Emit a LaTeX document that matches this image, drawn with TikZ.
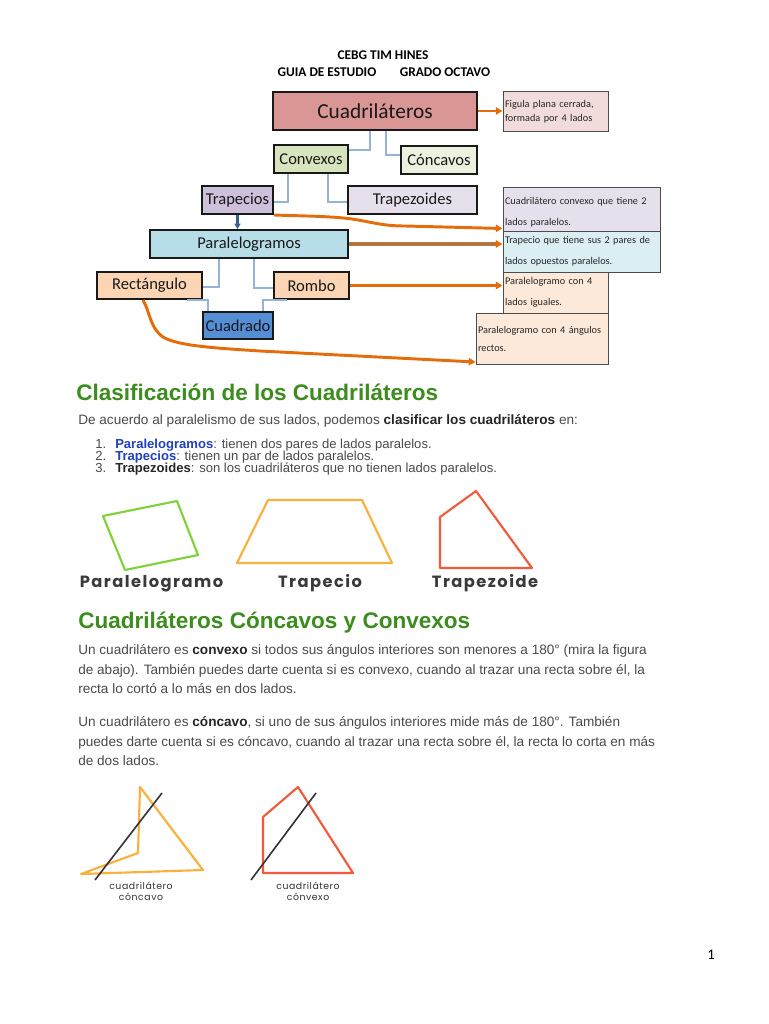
\documentclass[tikz,border=0pt]{standalone}
\usepackage{fontspec}
\setmainfont{Carlito}
\newfontfamily\arial{Liberation Sans}
\newfontfamily\gothicA{Poppins}[LetterSpace=9]
\newfontfamily\gothicB{Poppins}[LetterSpace=6]
\usetikzlibrary{arrows.meta}
\definecolor{cuadfill}{HTML}{DA9694}
\definecolor{convfill}{HTML}{D7E4BD}
\definecolor{concfill}{HTML}{EBF1DE}
\definecolor{trapfill}{HTML}{CCC0DA}
\definecolor{tzfill}{HTML}{E6E0EC}
\definecolor{parfill}{HTML}{B7DEE8}
\definecolor{peach}{HTML}{FCD5B5}
\definecolor{cuadrfill}{HTML}{558ED5}
\definecolor{dafill}{HTML}{F2DCDB}
\definecolor{dbfill}{HTML}{E6E0EC}
\definecolor{dcfill}{HTML}{DBEEF4}
\definecolor{ddfill}{HTML}{FDE9D9}
\definecolor{linkblue}{HTML}{95B3D7}
\definecolor{arrorange}{HTML}{E46C0A}
\definecolor{darrblue}{HTML}{376092}
\definecolor{headgreen}{HTML}{3C8C1E}
\definecolor{bodygray}{HTML}{4A4A4A}
\definecolor{listblue}{HTML}{2040C0}
\definecolor{shgreen}{HTML}{7ED23A}
\definecolor{shorange}{HTML}{FBB03B}
\definecolor{shred}{HTML}{F15A3A}
\definecolor{labgray}{HTML}{3A3A3A}
\begin{document}
\begin{tikzpicture}[x=0.75pt,y=-0.75pt,
  mainbox/.style={draw=black!90, line width=1.5pt, inner sep=0pt, text=black!90, font=\fontsize{12.4}{14}\selectfont},
  descbox/.style={draw=black!70, line width=0.75pt, inner xsep=1.5pt, inner ysep=0pt, align=left, text=black!85},
  link/.style={draw=linkblue, line width=0.9pt},
  orarrow/.style={draw=arrorange, line width=2.2pt, -{Triangle[length=5pt,width=5.5pt]}},
  titletxt/.style={inner sep=0pt, font=\bfseries\fontsize{10}{12}\selectfont, text=black},
  heading/.style={anchor=base west, inner sep=0pt, text=headgreen, font=\arial\bfseries\fontsize{16.9}{20}\selectfont},
  body/.style={anchor=base west, inner sep=0pt, text=bodygray, font=\arial\fontsize{10.2}{12}\selectfont},
  listtxt/.style={anchor=base west, inner sep=0pt, text=bodygray, font=\arial\fontsize{9.8}{10}\selectfont},
  shapelab/.style={anchor=base, inner sep=0pt, text=labgray, font=\gothicA\bfseries\fontsize{12.2}{13}\selectfont},
  smalllab/.style={anchor=base, inner sep=0pt, text=black!80, font=\gothicB\fontsize{7}{8}\selectfont},
  shapeline/.style={line width=1.6pt, line join=round}]
\useasboundingbox (0,0) rectangle (768,1024);
\fill[white] (0,0) rectangle (768,1024);

% title
\node[titletxt] (t1) at (383,55) {CEBG TIM HINES};
\node[titletxt] (t2) at (327,72) {GUIA DE ESTUDIO};
\node[titletxt] (t3) at (445,72) {GRADO OCTAVO};

% main boxes
\node[mainbox, fill=cuadfill, minimum width=153pt, minimum height=28.5pt, font=\fontsize{16}{18}\selectfont] (cuad) at (375,111) {Cuadriláteros};
\node[mainbox, fill=convfill, minimum width=55.5pt, minimum height=21pt] (conv) at (311,159) {Convexos};
\node[mainbox, fill=concfill, minimum width=57pt, minimum height=21pt] (conc) at (439,159.5) {Cóncavos};
\node[mainbox, fill=trapfill, minimum width=53.25pt, minimum height=21pt] (trap) at (237.5,200) {Trapecios};
\node[mainbox, fill=tzfill, minimum width=96.75pt, minimum height=21pt] (tz) at (412.5,200) {Trapezoides};
\node[mainbox, fill=parfill, minimum width=148.5pt, minimum height=21pt] (par) at (249,244) {Paralelogramos};
\node[mainbox, fill=peach, minimum width=78.75pt, minimum height=20.25pt] (rect) at (149.5,285.5) {Rectángulo};
\node[mainbox, fill=peach, minimum width=56.25pt, minimum height=20.25pt] (rombo) at (311.5,285.5) {Rombo};
\node[mainbox, fill=cuadrfill, minimum width=52.5pt, minimum height=20.25pt] (cuadr) at (238,325.5) {Cuadrado};

% description boxes
\node[descbox, fill=dafill, minimum width=78.75pt, minimum height=29.25pt, text width=75.75pt, font=\fontsize{7.7}{10.5}\selectfont] (d1) at (555.5,111.5) {Figula plana cerrada,\\formada por 4 lados};
\node[descbox, fill=dbfill, minimum width=117.75pt, minimum height=33pt, text width=114.75pt, font=\fontsize{7.7}{15.5}\selectfont] (d2) at (581.5,209) {\rule{0pt}{10.5pt}Cuadrilátero convexo que tiene 2\\lados paralelos.};
\node[descbox, fill=dcfill, minimum width=117.75pt, minimum height=30.75pt, text width=114.75pt, font=\fontsize{7.7}{15.5}\selectfont] (d3) at (581.5,251.5) {Trapecio que tiene sus 2 pares de\\lados opuestos paralelos.};
\node[descbox, fill=ddfill, minimum width=78.75pt, minimum height=30.75pt, text width=75.75pt, font=\fontsize{7.7}{16}\selectfont] (d4) at (555.5,292.5) {Paralelogramo con 4\\lados iguales.};
\node[descbox, fill=ddfill, minimum width=99pt, minimum height=38.25pt, text width=96pt, font=\fontsize{7.7}{13.5}\selectfont] (d5) at (542,338.5) {Paralelogramo con 4 ángulos\\rectos.};

% elbow coordinates
\coordinate (cA) at (370,150);
\coordinate (cB) at (386,155);
\coordinate (cC) at (288,202);
\coordinate (cD) at (328,202);
\coordinate (cE) at (219,287);
\coordinate (cF) at (254,288);
\coordinate (cG0) at (187,0);
\coordinate (cG) at (208,0);
\coordinate (cH0) at (287,0);
\coordinate (cH) at (263,0);
\coordinate (cR) at (143,0);
\coordinate (cR2) at (0,362);

% blue connectors
\draw[link] (cuad.south -| cA) |- (conv.east |- cA);
\draw[link] (cuad.south -| cB) |- (conc.west |- cB);
\draw[link] (conv.south -| cC) |- (trap.east |- cC);
\draw[link] (conv.south -| cD) |- (tz.west |- cD);
\draw[link] (par.south -| cE) |- (rect.east |- cE);
\draw[link] (par.south -| cF) |- (rombo.west |- cF);
\draw[link] (rect.south -| cG0) -| (cuadr.north -| cG);
\draw[link] (rombo.south -| cH0) -| (cuadr.north -| cH);
\draw[draw=darrblue, line width=1.6pt, -{Triangle[length=4pt,width=4.5pt]}] (trap.south) -- (trap.south |- par.north);

% orange arrows
\draw[orarrow] (cuad.east) -- (d1.west |- cuad.east);
\draw[orarrow] (trap.south east) .. controls (300,216) and (330,216) .. (352,219) .. controls (372,222) and (382,226) .. (405,226) -- ([yshift=2.25pt]d2.south west);
\draw[orarrow, line width=3pt] (par.east) -- (d3.west |- par.east);
\draw[draw=gray, line width=1.3pt, shorten >=6pt] (par.east) -- (d3.west |- par.east);
\draw[orarrow] (rombo.east) -- (d4.west |- rombo.east);
\draw[orarrow] (rect.south -| cR) .. controls (150,312) and (150,328) .. (163,337) .. controls (178,346) and (215,348) .. (260,351) -- (d5.west |- cR2);

% section 1
\node[heading] (h1) at (76,400) {Clasificación de los Cuadriláteros};
\node[body] (p0) at (78,424) {De acuerdo al paralelismo de sus lados, podemos \textbf{\textcolor{black!85}{clasificar los cuadriláteros}} en:};
\node[listtxt] (n1) at (95,448) {1.};
\node[listtxt] (n2) at (95,460) {2.};
\node[listtxt] (n3) at (95,472) {3.};
\node[listtxt] (l1) at (115,448) {\textcolor{listblue}{\textbf{Paralelogramos}}: tienen dos pares de lados paralelos.};
\node[listtxt] (l2) at (115,460) {\textcolor{listblue}{\textbf{Trapecios}}: tienen un par de lados paralelos.};
\node[listtxt] (l3) at (115,472) {\textcolor{black!85}{\textbf{Trapezoides}}: son los cuadriláteros que no tienen lados paralelos.};

% shapes
\draw[shapeline, shgreen] (103,516) -- (177,501) -- (198,555) -- (125,570) -- cycle;
\draw[shapeline, shorange] (237,563) -- (268,500) -- (362,500) -- (392,563) -- cycle;
\draw[shapeline, shred] (440,568) -- (440,517) -- (476,491) -- (532,568) -- cycle;
\node[shapelab] (s1) at (151.5,587) {Paralelogramo};
\node[shapelab] (s2) at (320,587) {Trapecio};
\node[shapelab] (s3) at (485,587) {Trapezoide};

% section 2
\node[heading] (h2) at (78,628) {Cuadriláteros Cóncavos y Convexos};
\node[body] (b1) at (78,654) {Un cuadrilátero es \textbf{\textcolor{black!85}{convexo}} si todos sus ángulos interiores son menores a 180° (mira la figura};
\node[body] (b2) at (78,674) {de abajo). También puedes darte cuenta si es convexo, cuando al trazar una recta sobre él, la};
\node[body] (b3) at (78,693) {recta lo cortó a lo más en dos lados.};
\node[body] (b4) at (78,726) {Un cuadrilátero es \textbf{\textcolor{black!85}{cóncavo}}, si uno de sus ángulos interiores mide más de 180°. También};
\node[body] (b5) at (78,746) {puedes darte cuenta si es cóncavo, cuando al trazar una recta sobre él, la recta lo corta en más};
\node[body] (b6) at (78,765) {de dos lados.};

% bottom shapes
\draw[shapeline, shorange] (81,874) -- (138,853) -- (140,787) -- (203,870) -- cycle;
\draw[line width=1.2pt, black!80] (95,880) -- (162,793);
\draw[shapeline, shred] (263,873) -- (263,817) -- (298,787) -- (353,873) -- cycle;
\draw[line width=1.2pt, black!80] (251,880) -- (316,793);
\node[smalllab] (c1) at (141,889) {cuadrilátero};
\node[smalllab] (c2) at (141,900) {cóncavo};
\node[smalllab] (c3) at (308,889) {cuadrilátero};
\node[smalllab] (c4) at (308,900) {cónvexo};

\node[inner sep=0pt, font=\fontsize{11}{12}\selectfont] (pg) at (711,955) {1};
\end{tikzpicture}
\end{document}
